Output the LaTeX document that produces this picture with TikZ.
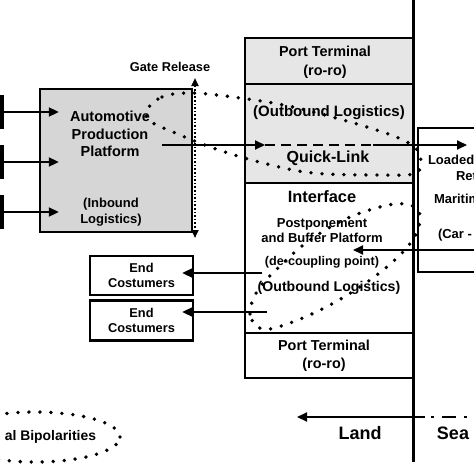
\documentclass[tikz,border=0pt]{standalone}
\usepackage{fontspec}
\setmainfont{Liberation Sans}
\usetikzlibrary{arrows.meta,calc}

\definecolor{platgray}{RGB}{214, 214, 214}
\definecolor{termgray}{RGB}{230, 230, 230}

\begin{document}
\begin{tikzpicture}[x=1pt, y=-1pt, line width=2pt,
        every node/.style={align=center, inner sep=0pt},
        arr/.style={-{Triangle[length=10pt, width=9pt]}},
        box/.style={draw, line width=2.4pt},
        bipol/.style={line width=3.8pt, line cap=round, dash pattern=on 0pt off 11pt},
        tbig/.style={font=\bfseries\fontsize{14.5}{17.5}\selectfont},
        tmid/.style={font=\bfseries\fontsize{13}{15.5}\selectfont},
        tsea/.style={font=\bfseries\fontsize{18}{20}\selectfont}]

    \clip (0,0) rectangle (474,474);

    % --- boxes ---
    \node[box, fill=platgray, minimum width=152pt, minimum height=143pt] (plat) at (116,160.5) {};
    \node[box, fill=termgray, minimum width=168pt, minimum height=46pt] (pt1) at (329,61) {};
    \node[box, fill=termgray, minimum width=168pt, minimum height=99pt] (qlink) at (329,133.5) {};
    \node[box, fill=white, minimum width=168pt, minimum height=150pt] (iface) at (329,258) {};
    \node[box, fill=white, minimum width=168pt, minimum height=45pt] (pt2) at (329,355.5) {};
    \node[box, fill=white, minimum width=122pt, minimum height=144pt] (vessel) at (479,200) {};
    \node[box, fill=white, minimum width=103pt, minimum height=39pt,
          font=\bfseries\fontsize{12.8}{15}\selectfont] (ec1) at (141.5,275.5) {End\\Costumers};
    \node[box, fill=white, minimum width=103pt, minimum height=40pt,
          font=\bfseries\fontsize{12.8}{15}\selectfont] (ec2) at (141.5,320.5) {End\\Costumers};

    % --- land / sea border ---
    \coordinate (bt) at (413,-2);
    \coordinate (bb) at (413,462);
    \draw[line width=3pt] (bt) -- (bb);

    % --- inbound flows ---
    \foreach \y [count=\i] in {112,162,212} {
        \coordinate (in\i) at (2,\y);
        \draw[line width=4pt] (2,\y-17) -- (2,\y+17);
        \draw[arr] (in\i) -- ($(in\i -| plat.west)+(20,0)$);
    }

    % --- gate release ---
    \coordinate (gt) at (195,78);
    \coordinate (gb) at (195,238);
    \draw[{Triangle[length=8pt, width=7pt]}-{Triangle[length=8pt, width=7pt]}, line width=2.4pt,
          dash pattern=on 1.6pt off 2pt] (gt) -- (gb);
    \node[font=\bfseries\fontsize{12.8}{15}\selectfont] (gate) at (170,67) {Gate Release};

    % --- quick-link flow ---
    \coordinate (q0) at (162,145);
    \coordinate (q1) at (265,145);
    \coordinate (q2) at (373,145);
    \coordinate (q3) at (467,145);
    \draw[arr] (q0) -- (q1);
    \draw[dash pattern=on 10pt off 6pt] (q1) -- (q2);
    \draw[arr] (q2) -- (q3);

    % --- return flow and distribution ---
    \coordinate (r0) at (480,250);
    \coordinate (r1) at (353,250);
    \draw[arr] (r0) -- (r1);
    \coordinate (o1) at (262,273);
    \coordinate (o2) at (267,312);
    \draw[arr] (o1) -- ($(o1 -| ec1.east)+(-12,0)$);
    \draw[arr] (o2) -- ($(o2 -| ec2.east)+(-12,0)$);

    % --- land / sea arrow ---
    \coordinate (l0) at (425,417);
    \coordinate (l1) at (297,417);
    \draw[arr] (l0) -- (l1);
    \coordinate (s0) at (431,417);
    \coordinate (s1) at (480,417);
    \draw[dash pattern=on 3pt off 8pt on 14pt off 8pt] (s0) -- (s1);

    % --- texts ---
    \node[tbig] (aptxt) at (110,134) {Automotive\\Production\\Platform};
    \node[font=\bfseries\fontsize{13}{16}\selectfont] (ibtxt) at (111,212) {(Inbound\\Logistics)};
    \node[font=\bfseries\fontsize{14.4}{19}\selectfont] (pt1txt) at (325,62.5) {Port Terminal\\(ro-ro)};
    \node[font=\bfseries\fontsize{15}{17}\selectfont] (obtxt) at (329,113) {(Outbound Logistics)};
    \node[font=\bfseries\fontsize{16}{18}\selectfont] (qltxt) at (328,158) {Quick-Link};
    \node[font=\bfseries\fontsize{16.4}{18}\selectfont] (iftxt) at (322,197) {Interface};
    \node[tmid] (pbtxt) at (322,230.5) {Postponement\\and Buffer Platform};
    \node[font=\bfseries\fontsize{12.6}{15}\selectfont] (dctxt) at (322,262) {(de-coupling point)};
    \node[font=\bfseries\fontsize{14.1}{16}\selectfont] (ob2txt) at (329,288) {(Outbound Logistics)};
    \node[font=\bfseries\fontsize{14.4}{18}\selectfont] (pt2txt) at (324,356) {Port Terminal\\(ro-ro)};
    \node[tmid, anchor=west] (ldtxt) at (427,160) {Loaded};
    \node[tmid, anchor=west] (rttxt) at (455,176) {Ret};
    \node[tmid, anchor=west] (mrtxt) at (433,199) {Maritim};
    \node[tmid, anchor=west] (cctxt) at (437,235) {(Car -};
    \node[tsea] (land) at (360,433) {Land};
    \node[tsea] (sea) at (453,433) {Sea};
    \node[font=\bfseries\fontsize{13.9}{16}\selectfont, anchor=east] (bptxt) at (97,437) {al Bipolarities};

    % --- bipolarities (dotted loops) ---
    \draw[bipol] plot[smooth cycle, tension=0.6] coordinates {(147,110) (162,97) (190,93) (233,97)
        (293,107) (367,127) (407,142) (420,156) (416,173) (380,175) (313,173) (263,163)
        (213,148) (173,132) (150,121)};
    \draw[bipol] plot[smooth cycle, tension=0.6] coordinates {(262,329) (250,314) (258,290)
        (280,266) (310,240) (350,217) (395,204) (418,210) (417,232) (400,255) (370,280)
        (330,305) (290,323)};
    \draw[bipol] (35,437) ellipse [x radius=85pt, y radius=25pt];

\end{tikzpicture}
\end{document}
